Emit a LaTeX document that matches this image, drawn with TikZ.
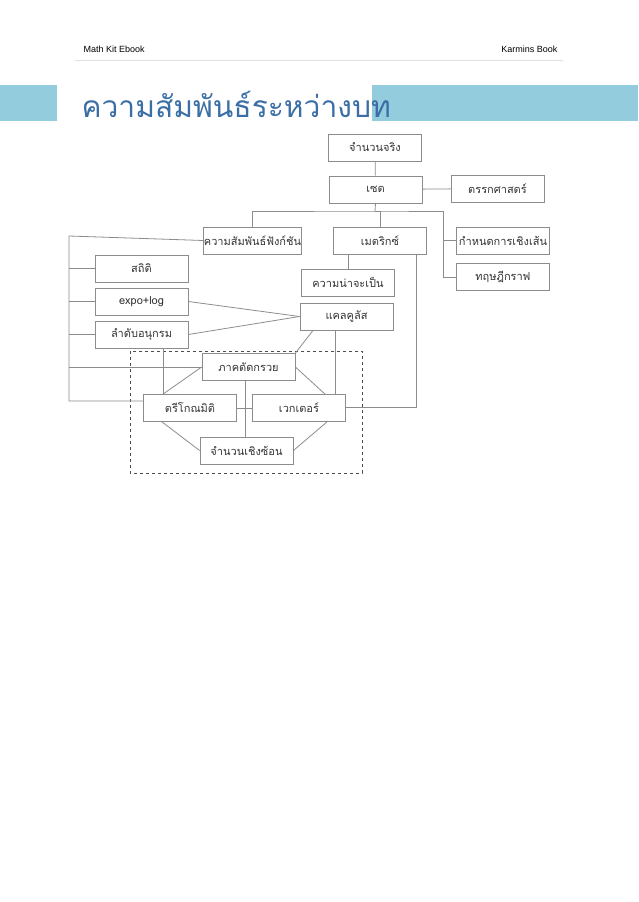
\documentclass[tikz,border=0pt]{standalone}
\usepackage{fontspec}
\setmainfont{Liberation Sans}
\newfontfamily\thaifont[Script=Thai]{Loma}
\definecolor{bandblau}{HTML}{92CCDD}
\definecolor{titelblau}{HTML}{3A6EA5}
\definecolor{linie}{HTML}{8C8C8C}
\tikzset{
    kasten/.style={draw=linie, thick, minimum width=93pt, minimum height=27pt, inner sep=0pt, font=\thaifont\fontsize{11}{12}\selectfont, text=black!80},
    verb/.style={linie, thick}
}
\begin{document}
\begin{tikzpicture}[x=1pt, y=-1pt]
        \useasboundingbox (0,0) rectangle (638,902);

        % Kopfzeile
        \node [anchor=west, font=\fontsize{9}{10}\selectfont] (kopflinks) at (80,49) {Math Kit Ebook};
        \node [anchor=east, font=\fontsize{9}{10}\selectfont] (kopfrechts) at (561,49) {Karmins Book};
        \draw [black!12] (75,60) -- (563,60);

        % Titelband
        \fill [bandblau] (0,85) rectangle (57,121);
        \fill [bandblau] (372,85) rectangle (638,121);
        \node [anchor=west, text=titelblau, font=\thaifont\fontsize{30}{32}\selectfont] (titel) at (78,104) {ความสัมพันธ์ระหว่างบท};

        % Kaesten
        \node [kasten] (reell) at (375,147.5) {จำนวนจริง};
        \node [kasten] (menge) at (375.5,189.5) {เซต};
        \node [kasten] (logik) at (497.5,188.5) {ตรรกศาสตร์};
        \node [kasten] (funktion) at (252.5,240.5) {ความสัมพันธ์ฟังก์ชัน};
        \node [kasten] (matrix) at (380,240.5) {เมตริกซ์};
        \node [kasten] (linear) at (503,240.5) {กำหนดการเชิงเส้น};
        \node [kasten] (graph) at (503,277) {ทฤษฎีกราฟ};
        \node [kasten] (wahrsch) at (348,282.5) {ความน่าจะเป็น};
        \node [kasten] (statistik) at (141.5,268.5) {สถิติ};
        \node [kasten] (expo) at (141.5,301.5) {expo+log};
        \node [kasten] (folge) at (141.5,334.5) {ลำดับอนุกรม};
        \node [kasten] (kalkuel) at (346.5,316.5) {แคลคูลัส};
        \node [kasten] (kegel) at (248.5,367) {ภาคตัดกรวย};
        \node [kasten] (trigo) at (190,408) {ตรีโกณมิติ};
        \node [kasten] (vektor) at (299,408) {เวกเตอร์};
        \node [kasten] (komplex) at (246.5,450.5) {จำนวนเชิงซ้อน};

        \draw [thick, dashed, black!70] (130,351) rectangle (362,473);

        % Hilfspunkte
        \coordinate (bus) at (375,211);
        \coordinate (busrechts) at (443,211);
        \coordinate (links) at (69,236);
        \coordinate (linksunten) at (69,401);

        % obere Verbindungen
        \draw [verb] (reell) -- (menge);
        \draw [verb] (menge) -- (logik);
        \draw [verb] (menge.south) -- (bus);
        \draw [verb] (funktion.north) |- (bus) -| (busrechts) |- (graph.west);
        \draw [verb] (bus) -| (matrix.north);
        \draw [verb] (busrechts |- linear.west) -- (linear.west);
        \draw [verb] (matrix.south -| wahrsch.north) -- (wahrsch.north);
        \draw [verb] (matrix.south -| 416,0) |- (vektor.east |- 0,407);

        % linke Sammelleitung
        \draw [verb] (funktion.west) -- (links) -- (linksunten) -- (trigo.west |- linksunten);
        \foreach \ziel in {statistik, expo, folge, kegel}
            \draw [verb] (links |- \ziel.west) -- (\ziel.west);

        % Kalkuel
        \draw [verb] (expo.east) -- (kalkuel.west);
        \draw [verb] (folge.east) -- (kalkuel.west);
        \draw [verb] (kalkuel.south -| 313,0) -- (kegel.north east);
        \draw [verb] (kalkuel.south -| vektor.north -| 335,0) -- (vektor.north -| 335,0);
        \draw [verb] (folge.south -| 163,0) -- (trigo.north -| 163,0);

        % gestrichelter Bereich
        \draw [verb] (kegel.west) -- (trigo.north -| 163,0);
        \draw [verb] (kegel.east) -- (vektor.north -| 325,0);
        \draw [verb] (kegel.south -| 245,0) -- (komplex.north -| 245,0);
        \draw [verb] (trigo) -- (vektor);
        \draw [verb] (trigo.south -| 162,0) -- (komplex.west);
        \draw [verb] (vektor.south -| 327,0) -- (komplex.east);

\end{tikzpicture}
\end{document}
